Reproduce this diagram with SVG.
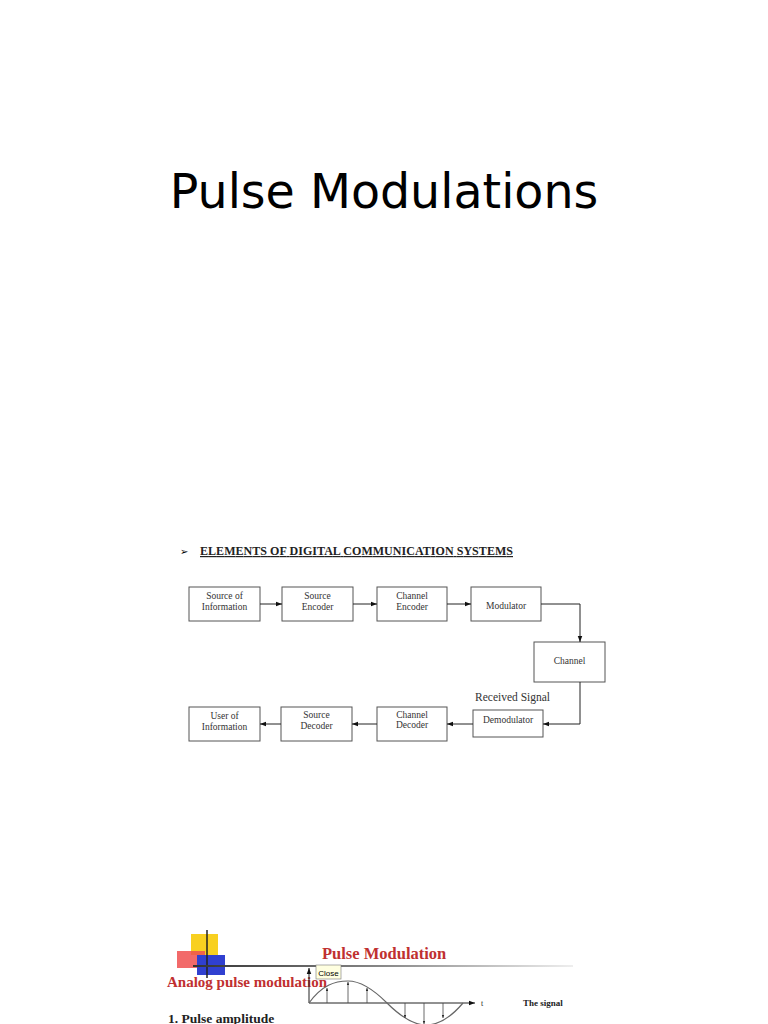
<svg xmlns="http://www.w3.org/2000/svg" width="768" height="1024" viewBox="0 0 768 1024">
<defs>
<style>
.b{fill:#fff;stroke:#555;stroke-width:1}
.t{font-family:"Liberation Serif",serif;font-size:9.5px;fill:#333;text-anchor:middle}
.c{stroke:#222;stroke-width:1;fill:none}
</style>
<marker id="a" viewBox="0 0 8 8" refX="8" refY="4" markerWidth="6" markerHeight="6" orient="auto"><path d="M0,1L8,4L0,7z" fill="#111"/></marker>
<marker id="s" viewBox="0 0 8 8" refX="8" refY="4" markerWidth="4" markerHeight="4" orient="auto"><path d="M0,1L8,4L0,7z" fill="#222"/></marker>
<linearGradient id="fade" x1="0" x2="1"><stop offset="0" stop-color="#333"/><stop offset="0.5" stop-color="#888"/><stop offset="1" stop-color="#eee"/></linearGradient>
</defs>
<rect width="768" height="1024" fill="#fff"/>
<text x="384" y="208" text-anchor="middle" font-family="DejaVu Sans,sans-serif" font-size="47.5">Pulse Modulations</text>
<text x="180" y="555" font-family="DejaVu Sans,sans-serif" font-size="10">➢</text>
<text x="200" y="555" font-family="Liberation Serif,serif" font-size="12" font-weight="bold" text-decoration="underline" fill="#222" textLength="313">ELEMENTS OF DIGITAL COMMUNICATION SYSTEMS</text>
<g id="n1"><rect class="b" x="189" y="587" width="71" height="34"/><text class="t" x="224.5" y="599">Source of</text><text class="t" x="224.5" y="610">Information</text></g>
<g id="n2"><rect class="b" x="282" y="587" width="71" height="34"/><text class="t" x="317.5" y="599">Source</text><text class="t" x="317.5" y="610">Encoder</text></g>
<g id="n3"><rect class="b" x="377" y="587" width="70" height="34"/><text class="t" x="412" y="599">Channel</text><text class="t" x="412" y="610">Encoder</text></g>
<g id="n4"><rect class="b" x="471" y="587" width="70" height="34"/><text class="t" x="506" y="609">Modulator</text></g>
<g id="n5"><rect class="b" x="534" y="642" width="71" height="40"/><text class="t" x="569.5" y="664">Channel</text></g>
<g id="n6"><rect class="b" x="473" y="710" width="70" height="27"/><text class="t" x="508" y="723">Demodulator</text></g>
<g id="n7"><rect class="b" x="377" y="707" width="70" height="34"/><text class="t" x="412" y="718">Channel</text><text class="t" x="412" y="728">Decoder</text></g>
<g id="n8"><rect class="b" x="281" y="707" width="71" height="34"/><text class="t" x="316.5" y="718">Source</text><text class="t" x="316.5" y="729">Decoder</text></g>
<g id="n9"><rect class="b" x="189" y="707" width="71" height="34"/><text class="t" x="224.5" y="719">User of</text><text class="t" x="224.5" y="730">Information</text></g>
<text x="475" y="701" font-family="Liberation Serif,serif" font-size="11.5" fill="#333">Received Signal</text>
<g id="connectors">
<path class="c" d="M260,604H282" marker-end="url(#a)"/>
<path class="c" d="M353,604H377" marker-end="url(#a)"/>
<path class="c" d="M447,604H471" marker-end="url(#a)"/>
<path class="c" d="M541,604H580V642" marker-end="url(#a)"/>
<path class="c" d="M580,682V724H543" marker-end="url(#a)"/>
<path class="c" d="M473,724H447" marker-end="url(#a)"/>
<path class="c" d="M377,724H352" marker-end="url(#a)"/>
<path class="c" d="M281,724H260" marker-end="url(#a)"/>
</g>
<g id="slide">
<rect x="191" y="934" width="27" height="21" fill="#f8d020"/>
<rect x="177" y="951" width="28" height="17" fill="#f05050" opacity="0.85"/>
<rect x="197" y="955" width="28" height="20" fill="#3040d0"/>
<line x1="207" y1="930" x2="207" y2="978" stroke="#222" stroke-width="1.5"/>
<rect x="193" y="965" width="380" height="2" fill="url(#fade)"/>
<text x="322" y="959" font-family="Liberation Serif,serif" font-size="16.5" font-weight="bold" fill="#c03030">Pulse Modulation</text>
<text x="167" y="987" font-family="Liberation Serif,serif" font-size="15" font-weight="bold" fill="#c03030">Analog pulse modulation</text>
<text x="168" y="1023" font-family="Liberation Serif,serif" font-size="13.5" font-weight="bold" fill="#222">1. Pulse amplitude</text>
<path class="c" d="M309,1003V968" marker-end="url(#a)"/>
<path class="c" d="M309,1003H475" marker-end="url(#a)"/>
<text x="481" y="1006" font-family="Liberation Serif,serif" font-size="8" fill="#222">t</text>
<text x="523" y="1006" font-family="Liberation Serif,serif" font-size="9" font-weight="bold" fill="#222">The signal</text>
<path d="M309,1003C322,985 335,981 348,981C361,981 374,990 387,1003C400,1016 413,1025 426,1025C439,1025 452,1016 463,1003" fill="none" stroke="#666" stroke-width="1.2"/>
<g stroke="#444" stroke-width="0.8" marker-end="url(#s)">
<path d="M327,1003V988"/><path d="M348,1003V982"/><path d="M367,1003V988"/><path d="M405,1003V1018"/><path d="M424,1003V1024"/><path d="M443,1003V1018"/>
</g>
<rect x="316" y="965" width="25" height="14" fill="#ffffe0" stroke="#777" stroke-width="0.6"/>
<text x="328.5" y="976" text-anchor="middle" font-family="Liberation Sans,sans-serif" font-size="8">Close</text>
</g>
</svg>
